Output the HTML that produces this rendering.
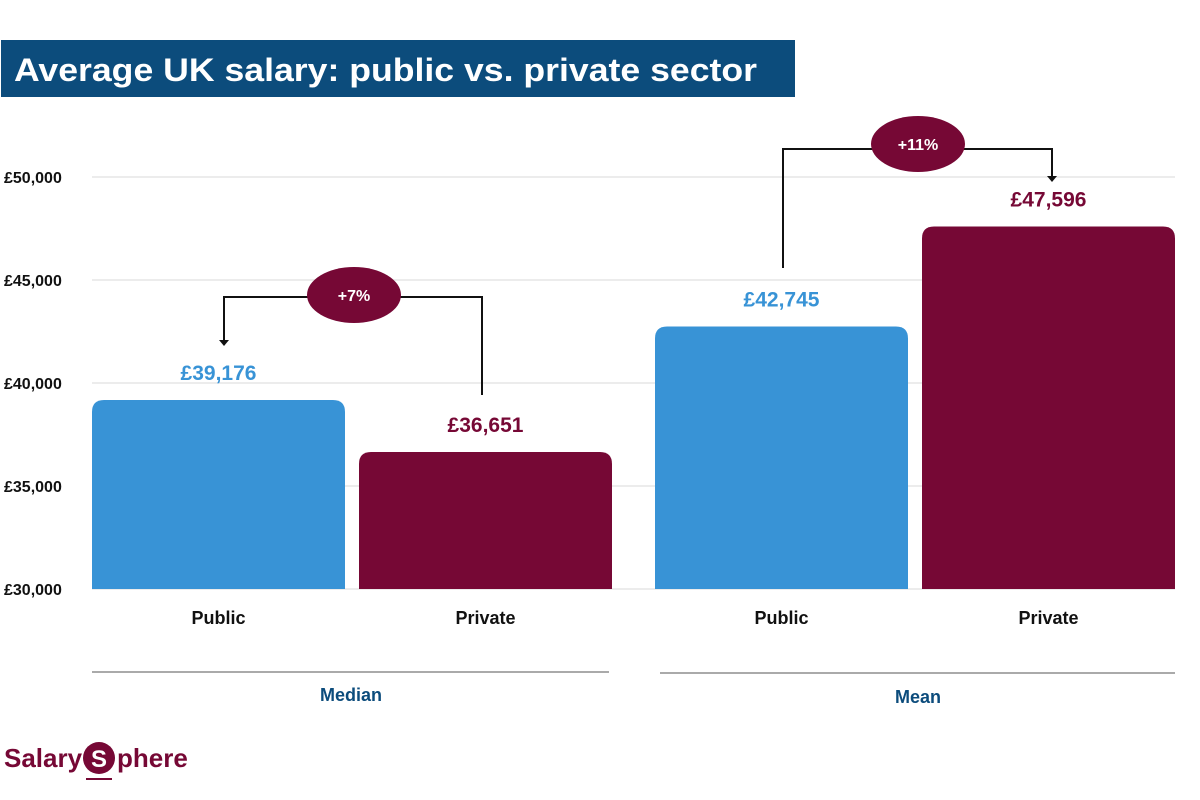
<!DOCTYPE html>
<html><head><meta charset="utf-8"><style>
html,body{margin:0;padding:0;background:#fff;}
svg{display:block;font-family:"Liberation Sans",sans-serif;}
</style></head><body>
<svg id="chart" width="1200" height="800" viewBox="0 0 1200 800">
  <rect x="1" y="40" width="794" height="57" fill="#0c4c7c"/>
  <text x="14" y="81" fill="#fff" font-size="32" font-weight="bold" textLength="743" lengthAdjust="spacingAndGlyphs">Average UK salary: public vs. private sector</text>
  <g id="grid"></g>
  <g id="bars"></g>
  <g id="ann" fill="none" stroke="#111" stroke-width="2">
    <polyline points="224,340 224,297 482,297 482,395"/>
    <polyline points="783,268 783,149 1052,149 1052,176"/>
  </g>
  <polygon points="219,340 229,340 224,346" fill="#111"/>
  <polygon points="1047,176 1057,176 1052,182" fill="#111"/>
  <ellipse cx="354" cy="295" rx="47" ry="28" fill="#760835"/>
  <text x="354" y="301" text-anchor="middle" fill="#fff" font-size="16" font-weight="bold">+7%</text>
  <ellipse cx="918" cy="144" rx="47" ry="28" fill="#760835"/>
  <text x="918" y="150" text-anchor="middle" fill="#fff" font-size="16" font-weight="bold">+11%</text>
  <line x1="92" y1="672" x2="609" y2="672" stroke="#aaa" stroke-width="2"/>
  <line x1="660" y1="673" x2="1175" y2="673" stroke="#aaa" stroke-width="2"/>
  <text x="351" y="701" text-anchor="middle" fill="#0c4c7c" font-size="18" font-weight="bold">Median</text>
  <text x="918" y="703" text-anchor="middle" fill="#0c4c7c" font-size="18" font-weight="bold">Mean</text>
  <g>
    <text x="4" y="767" fill="#760835" font-size="26" font-weight="bold">Salary</text>
    <circle cx="99" cy="758" r="16" fill="#760835"/>
    <text x="99" y="767" text-anchor="middle" fill="#fff" font-size="24" font-weight="bold">S</text>
    <rect x="86" y="778" width="26" height="2" fill="#760835"/>
    <text x="117" y="767" fill="#760835" font-size="26" font-weight="bold">phere</text>
  </g>
</svg>
<script>
const ticks = [30000, 35000, 40000, 45000, 50000];
const tickLabels = ["£30,000", "£35,000", "£40,000", "£45,000", "£50,000"];
const categories = ["Public", "Private", "Public", "Private"];
const sectors = ["public", "private", "public", "private"];
const values = [39176, 36651, 42745, 47596];
const valueLabels = ["£39,176", "£36,651", "£42,745", "£47,596"];

const NS = "http://www.w3.org/2000/svg";
const y = v => 589 - (v - 30000) * (412 / 20000);
const barX = [92, 359, 655, 922];
const barW = 253;
const colors = {public: "#3893d6", private: "#760835"};
function mk(tag, attrs, parent) {
  const e = document.createElementNS(NS, tag);
  for (const k in attrs) e.setAttribute(k, attrs[k]);
  parent.appendChild(e);
  return e;
}
const grid = document.getElementById("grid");
ticks.forEach((t, i) => {
  const l = mk("line", {x1: 92, x2: 1175, y1: y(t), y2: y(t), stroke: "#d8d8d8", "stroke-width": 1}, grid);
  
  
  const tx = mk("text", {x: 4, y: y(t) + 6, "font-size": 16, "font-weight": "bold", fill: "#111"}, grid);
  tx.textContent = tickLabels[i];
  
  
});
const bars = document.getElementById("bars");
values.forEach((v, i) => {
  const x = barX[i], top = y(v), bot = 589, r = 12;
  const c = colors[sectors[i]];
  const p = mk("path", {d: `M${x},${bot} V${top + r} Q${x},${top} ${x + r},${top} H${x + barW - r} Q${x + barW},${top} ${x + barW},${top + r} V${bot} Z`, fill: c}, bars);
  
  
  const vl = mk("text", {x: x + barW / 2, y: top - 20, "text-anchor": "middle", "font-size": 21, "font-weight": "bold", fill: c}, bars);
  vl.textContent = valueLabels[i];
  
  
  const cl = mk("text", {x: x + barW / 2, y: 624, "text-anchor": "middle", "font-size": 18, "font-weight": "bold", fill: "#111"}, bars);
  cl.textContent = categories[i];
  
  
});
</script>
</body></html>
